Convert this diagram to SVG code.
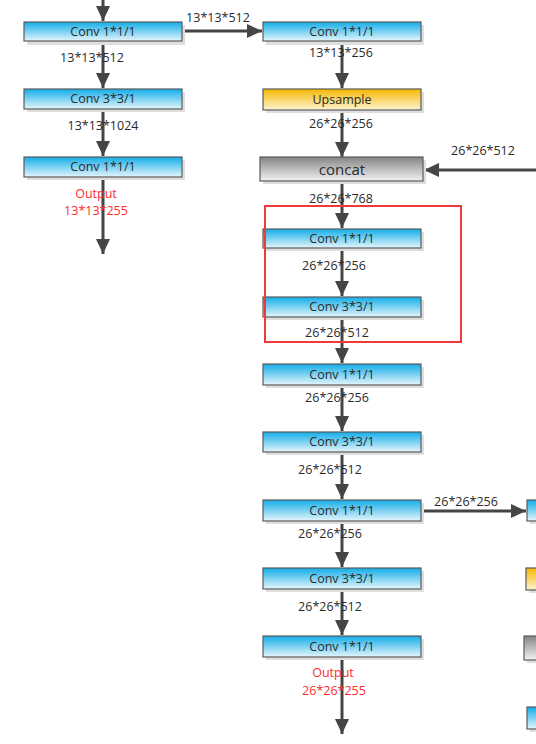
<svg xmlns="http://www.w3.org/2000/svg" width="536" height="744" viewBox="0 0 536 744">
<style>
.box{stroke:#5a5a5a;stroke-width:1.2}
.b{fill:url(#gb)}
.y{fill:url(#gy)}
.g{fill:url(#gg)}
.sh{fill:#dedede}
.t{font-family:"Open Sans","Liberation Sans",sans-serif;font-size:12.5px;fill:#2a2a2a;text-anchor:middle}
.c{font-family:"Open Sans","Liberation Sans",sans-serif;font-size:15px;fill:#2a2a2a;text-anchor:middle}
.r{font-family:"Open Sans","Liberation Sans",sans-serif;font-size:12.5px;fill:#ff2a2a;text-anchor:middle}
.a{stroke:#454545;stroke-width:3;fill:none;marker-end:url(#ah)}
</style>
<defs>
<linearGradient id="gb" x1="0" y1="0" x2="0" y2="1"><stop offset="0" stop-color="#12ade8"/><stop offset="1" stop-color="#e6f6fc"/></linearGradient>
<linearGradient id="gy" x1="0" y1="0" x2="0" y2="1"><stop offset="0" stop-color="#f6b700"/><stop offset="1" stop-color="#fdf3d2"/></linearGradient>
<linearGradient id="gg" x1="0" y1="0" x2="0" y2="1"><stop offset="0" stop-color="#858585"/><stop offset="1" stop-color="#f2f2f2"/></linearGradient>
<marker id="ah" markerUnits="userSpaceOnUse" markerWidth="16" markerHeight="14" refX="15" refY="7" orient="auto"><path d="M0,0 L15,7 L0,14 z" fill="#454545"/></marker>
</defs>
<g id="connectors">
<line class="a" x1="103" y1="0" x2="103" y2="21"/>
<line class="a" x1="103" y1="41" x2="103" y2="88"/>
<line class="a" x1="103" y1="109" x2="103" y2="156"/>
<line class="a" x1="103" y1="177" x2="103" y2="254"/>
<line class="a" x1="182" y1="31" x2="262" y2="31"/>
<line class="a" x1="342" y1="41" x2="342" y2="88"/>
<line class="a" x1="342" y1="110" x2="342" y2="157"/>
<line class="a" x1="536" y1="170" x2="424" y2="170"/>
<line class="a" x1="342" y1="181" x2="342" y2="228"/>
<line class="a" x1="342" y1="248" x2="342" y2="296"/>
<line class="a" x1="342" y1="317" x2="342" y2="363"/>
<line class="a" x1="342" y1="385" x2="342" y2="431"/>
<line class="a" x1="342" y1="452" x2="342" y2="499"/>
<line class="a" x1="421" y1="511" x2="526" y2="511"/>
<line class="a" x1="342" y1="521" x2="342" y2="567"/>
<line class="a" x1="342" y1="589" x2="342" y2="635"/>
<line class="a" x1="342" y1="657" x2="342" y2="734"/>
</g>
<g id="labels">
<text class="t" x="92" y="62">13*13*512</text>
<text class="t" x="103" y="130">13*13*1024</text>
<text class="r" x="96" y="198">Output</text>
<text class="r" x="96" y="215">13*13*255</text>
<text class="t" x="218" y="22">13*13*512</text>
<text class="t" x="341" y="57">13*13*256</text>
<text class="t" x="341" y="128">26*26*256</text>
<text class="t" x="483" y="155">26*26*512</text>
<text class="t" x="341" y="203">26*26*768</text>
<text class="t" x="334" y="270">26*26*256</text>
<text class="t" x="337" y="337">26*26*512</text>
<text class="t" x="337" y="402">26*26*256</text>
<text class="t" x="330" y="474">26*26*512</text>
<text class="t" x="466" y="506">26*26*256</text>
<text class="t" x="330" y="538">26*26*256</text>
<text class="t" x="330" y="611">26*26*512</text>
<text class="r" x="333" y="677">Output</text>
<text class="r" x="334" y="695">26*26*255</text>
</g>
<g id="n1"><rect class="sh" x="27" y="25" width="158" height="20"/><rect class="box b" x="24" y="22" width="158" height="19"/><text class="t" x="103" y="36">Conv 1*1/1</text></g>
<g id="n2"><rect class="sh" x="27" y="92" width="158" height="20"/><rect class="box b" x="24" y="89" width="158" height="20"/><text class="t" x="103" y="103">Conv 3*3/1</text></g>
<g id="n3"><rect class="sh" x="27" y="160" width="158" height="20"/><rect class="box b" x="24" y="157" width="158" height="20"/><text class="t" x="103" y="171">Conv 1*1/1</text></g>
<g id="n4"><rect class="sh" x="266" y="25" width="158" height="20"/><rect class="box b" x="263" y="22" width="158" height="19"/><text class="t" x="342" y="36">Conv 1*1/1</text></g>
<g id="n5"><rect class="sh" x="266" y="92" width="158" height="21"/><rect class="box y" x="263" y="89" width="158" height="21"/><text class="t" x="342" y="104">Upsample</text></g>
<g id="n6"><rect class="sh" x="263" y="160" width="163" height="24"/><rect class="box g" x="260" y="157" width="163" height="24"/><text class="c" x="342" y="175">concat</text></g>
<g id="n7"><rect class="sh" x="266" y="232" width="158" height="19"/><rect class="box b" x="263" y="229" width="158" height="19"/><text class="t" x="342" y="243">Conv 1*1/1</text></g>
<g id="n8"><rect class="sh" x="266" y="300" width="158" height="20"/><rect class="box b" x="263" y="297" width="158" height="20"/><text class="t" x="342" y="311">Conv 3*3/1</text></g>
<g id="n9"><rect class="sh" x="266" y="367" width="158" height="21"/><rect class="box b" x="263" y="364" width="158" height="21"/><text class="t" x="342" y="379">Conv 1*1/1</text></g>
<g id="n10"><rect class="sh" x="266" y="435" width="158" height="20"/><rect class="box b" x="263" y="432" width="158" height="20"/><text class="t" x="342" y="446">Conv 3*3/1</text></g>
<g id="n11"><rect class="sh" x="266" y="503" width="158" height="21"/><rect class="box b" x="263" y="500" width="158" height="21"/><text class="t" x="342" y="515">Conv 1*1/1</text></g>
<g id="n12"><rect class="sh" x="266" y="571" width="158" height="21"/><rect class="box b" x="263" y="568" width="158" height="21"/><text class="t" x="342" y="583">Conv 3*3/1</text></g>
<g id="n13"><rect class="sh" x="266" y="639" width="158" height="21"/><rect class="box b" x="263" y="636" width="158" height="21"/><text class="t" x="342" y="651">Conv 1*1/1</text></g>
<g id="n14"><rect class="sh" x="530" y="503" width="20" height="21"/><rect class="box b" x="527" y="500" width="20" height="21"/></g>
<g id="n15"><rect class="sh" x="529" y="571" width="20" height="22"/><rect class="box y" x="526" y="568" width="20" height="22"/></g>
<g id="n16"><rect class="sh" x="527" y="639" width="20" height="24"/><rect class="box g" x="524" y="636" width="20" height="24"/></g>
<g id="n17"><rect class="sh" x="530" y="710" width="20" height="22"/><rect class="box b" x="527" y="707" width="20" height="22"/></g>
<g id="highlight"><rect x="265" y="206" width="196" height="136" fill="none" stroke="#f03a3a" stroke-width="2"/></g>
</svg>
